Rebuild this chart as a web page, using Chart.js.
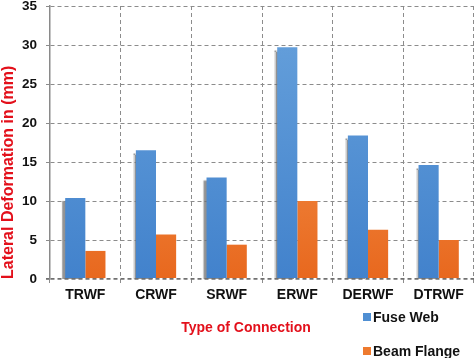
<!DOCTYPE html>
<html>
<head>
<meta charset="utf-8">
<script src="https://cdn.jsdelivr.net/npm/chart.js@4/dist/chart.umd.min.js"></script>
<style>
html,body{margin:0;padding:0;background:#fff;}
#wrap{width:474px;height:358px;position:relative;}
</style>
</head>
<body>
<div id="wrap"><canvas id="c" width="474" height="358"></canvas></div>
<script>
const categories = ["TRWF", "CRWF", "SRWF", "ERWF", "DERWF", "DTRWF"];
const fuseWeb = [10.4, 16.5, 13.0, 29.7, 18.4, 14.6];
const beamFlange = [3.6, 5.7, 4.4, 10.0, 6.3, 5.0];
const yTicks = [0, 5, 10, 15, 20, 25, 30, 35];
const seriesNames = ["Fuse Web", "Beam Flange"];
const xTitle = "Type of Connection";
const yTitle = "Lateral Deformation in (mm)";

const FONT = "'Liberation Sans', Arial, sans-serif";
const RED = "#e3101b";
const legendColors = ["#4f8fd3", "#ee7a2e"];

function grad(top, bottom, fallback) {
  return function (ctx) {
    const chart = ctx.chart;
    const a = chart.chartArea;
    if (!a) return fallback;
    const g = chart.ctx.createLinearGradient(0, a.top, 0, a.bottom);
    g.addColorStop(0, top);
    g.addColorStop(1, bottom);
    return g;
  };
}

const shadowPlugin = {
  id: 'barShadow',
  beforeDatasetDraw(chart, args) {
    const c = chart.ctx;
    c.save();
    if (args.index === 0) {
      c.shadowColor = 'rgba(110,110,110,0.75)';
      c.shadowOffsetX = -3;
      c.shadowOffsetY = 3;
      c.shadowBlur = 1;
    }
  },
  afterDatasetDraw(chart) {
    chart.ctx.restore();
  }
};

const extrasPlugin = {
  id: 'extras',
  afterDraw(chart) {
    const c = chart.ctx;
    const a = chart.chartArea;
    c.save();
    c.font = "bold 14px " + FONT;
    c.fillStyle = RED;
    c.textAlign = 'center';
    c.textBaseline = 'alphabetic';
    c.fillText(xTitle, (a.left + a.right) / 2 - 16, 332);
    c.textAlign = 'left';
    const rows = [322, 356];
    chart.data.datasets.forEach((ds, i) => {
      c.fillStyle = legendColors[i];
      c.fillRect(363, rows[i] - 9, 8, 8);
      c.fillStyle = '#111';
      c.fillText(ds.label, 373, rows[i]);
    });
    c.restore();
  }
};

new Chart(document.getElementById('c'), {
  type: 'bar',
  data: {
    labels: categories,
    datasets: [
      {
        label: seriesNames[0],
        data: fuseWeb,
        backgroundColor: grad('#68a2dc', '#4282cc', '#5b9bd5'),
        barPercentage: 1,
        categoryPercentage: 0.57
      },
      {
        label: seriesNames[1],
        data: beamFlange,
        backgroundColor: grad('#f7a35e', '#e8681e', '#ed7d31'),
        barPercentage: 1,
        categoryPercentage: 0.57
      }
    ]
  },
  options: {
    responsive: false,
    animation: false,
    devicePixelRatio: 1,
    layout: { padding: { top: 6, right: 0, bottom: 0, left: 0 } },
    plugins: {
      legend: { display: false },
      tooltip: { enabled: false }
    },
    scales: {
      x: {
        grid: {
          display: true,
          offset: true,
          color: '#8c8c8c',
          lineWidth: 1,
          tickLength: 4,
          drawTicks: true
        },
        border: { display: false, dash: [4, 3] },
        ticks: {
          color: '#111',
          font: { family: FONT, size: 14, weight: 'bold' },
          padding: 4,
          maxRotation: 0
        },
        afterFit(scale) { scale.height = 79; scale.paddingLeft = 0; scale.paddingRight = 0; }
      },
      y: {
        min: 0,
        max: 35,
        afterBuildTicks(scale) { scale.ticks = yTicks.map(v => ({ value: v })); },
        grid: {
          color: (ctx) => (ctx.tick && ctx.tick.value === 0) ? '#707070' : '#8c8c8c',
          lineWidth: (ctx) => (ctx.tick && ctx.tick.value === 0) ? 1.8 : 1,
          tickLength: 4
        },
        border: { display: true, color: '#8a8a8a', width: 1.5, dash: [4, 3] },
        ticks: {
          color: '#111',
          font: { family: FONT, size: 13.5, weight: 'bold' },
          padding: 9
        },
        title: {
          display: true,
          text: yTitle,
          align: 'start',
          color: RED,
          font: { family: FONT, size: 16, weight: 'bold', lineHeight: 1.1 },
          padding: { top: 0, bottom: 0 }
        },
        afterFit(scale) { scale.width = 50; scale.paddingTop = 0; scale.paddingBottom = 0; }
      }
    }
  },
  plugins: [shadowPlugin, extrasPlugin]
});
</script>
</body>
</html>
